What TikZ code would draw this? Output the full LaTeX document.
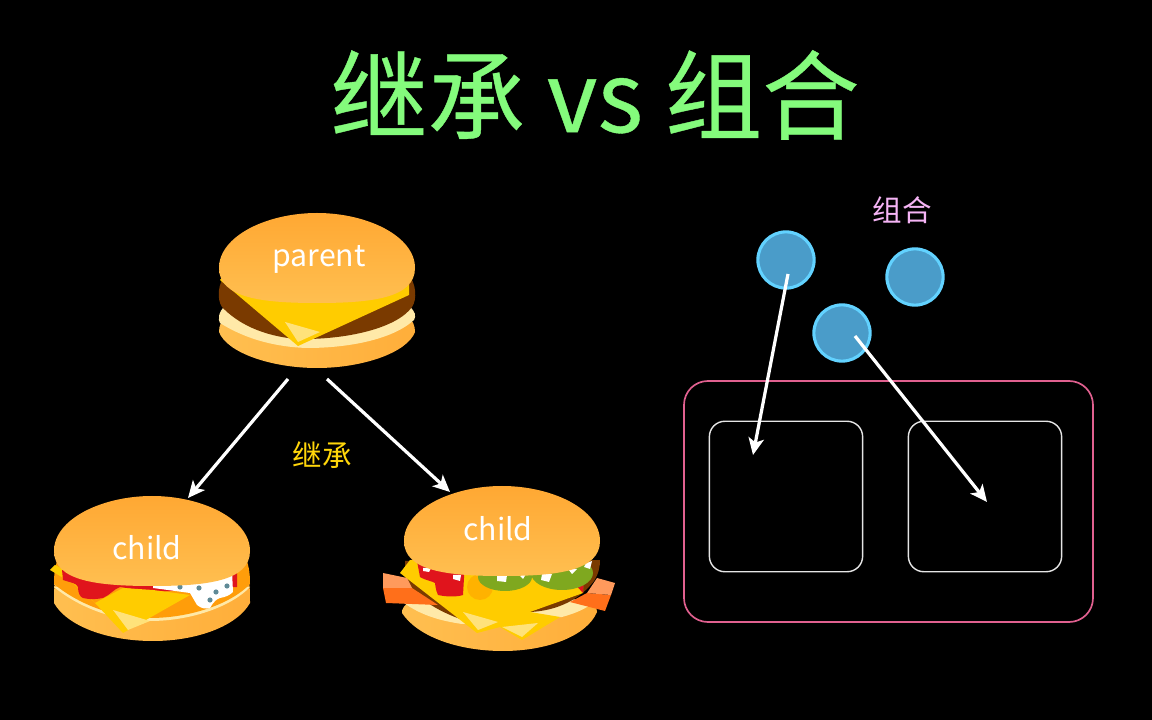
\documentclass[tikz,border=0pt]{standalone}
\usepackage{fontspec}
\setmainfont{Noto Sans CJK SC}
\newfontfamily\titlefont[FakeBold=0.4]{Noto Sans CJK SC}
\usetikzlibrary{arrows.meta}

\definecolor{buntop}{HTML}{FFA833}
\definecolor{bunbot}{HTML}{FFBF50}
\definecolor{baseedge}{HTML}{FFAE3A}
\definecolor{patty}{HTML}{7A3A00}
\definecolor{cheese}{HTML}{FFCC00}
\definecolor{shine}{HTML}{FFE27A}
\definecolor{cream}{HTML}{FFE9A8}
\definecolor{ketchup}{HTML}{E0141C}
\definecolor{pickle}{HTML}{7FA81F}
\definecolor{mayo}{HTML}{FF9D0A}
\definecolor{titlegreen}{HTML}{84FB7C}
\definecolor{labelpink}{HTML}{F5B4F5}
\definecolor{labelgold}{HTML}{FFD60A}
\definecolor{circlefill}{HTML}{4A9CC9}
\definecolor{circleline}{HTML}{62D2FF}
\definecolor{boxpink}{HTML}{E0608F}
\definecolor{specks}{HTML}{5F8A96}
\definecolor{meatlight}{HTML}{FF9A5C}
\definecolor{meatdark}{HTML}{FF6F1A}

\newcommand{\bunpath}{(-98,0) .. controls (-98,-32) and (-50,-55) .. (0,-55) .. controls (50,-55) and (98,-32) .. (98,0) .. controls (98,30) and (55,35) .. (0,35) .. controls (-55,35) and (-98,30) .. (-98,0) -- cycle}

\tikzset{
	bunfill/.style={top color=buntop,bottom color=bunbot,draw=none},
	bunbase/.style={left color=bunbot,right color=baseedge,draw=none},
	bunlabel/.style={text=white,font=\fontsize{21.5}{21.5}\selectfont},
	ball/.style={circle,draw=circleline,fill=circlefill,line width=2.2pt,minimum size=40pt,inner sep=0pt},
	slot/.style={draw=white!90!black,line width=1pt,rounded corners=11pt},
	link/.style={draw=white,line width=2.3pt,-{Stealth[length=12pt,width=11pt,inset=3pt]}},
}

\begin{document}
\begin{tikzpicture}[x=0.025cm,y=-0.025cm]
	\fill[black] (0,0) rectangle (1152,720);
	\useasboundingbox (0,0) rectangle (1152,720);

	% title
	\node[text=titlegreen,font=\titlefont\fontsize{69.2}{69.2}\selectfont] (title) at (595,95) {继承 vs 组合};

	% parent burger
	\begin{scope}[shift={(317,268)}]
		\path[bunbase] (-90,48) .. controls (-96,52) and (-98,58) .. (-98,64) .. controls (-90,85) and (-45,100) .. (0,100) .. controls (45,100) and (90,85) .. (98,64) .. controls (98,58) and (96,52) .. (90,48) -- cycle;
		\fill[cream] (-92,38) .. controls (-99,44) and (-99,52) .. (-97,55) .. controls (-70,72) and (-40,79) .. (-10,80) .. controls (30,80) and (75,72) .. (97,52) .. controls (99,48) and (99,44) .. (92,38) -- cycle;
		\fill[patty] (-90,5) .. controls (-100,15) and (-100,32) .. (-95,39) .. controls (-80,55) and (-55,68) .. (-20,71) .. controls (30,72) and (80,60) .. (95,39) .. controls (100,32) and (100,15) .. (90,5) -- cycle;
		\fill[cheese] (-97,12) -- (-19,78) -- (92,27) -- (92,5) -- (-90,5) -- cycle;
		\fill[shine] (-32,54) -- (3,64) -- (-19,74) -- cycle;
		\path[bunfill] \bunpath;
		\node[bunlabel] (parent) at (2,-9) {parent};
	\end{scope}

	% child with sauce
	\begin{scope}[shift={(152,551)}]
		\path[bunbase] (-95,25) .. controls (-98,30) and (-98,40) .. (-98,52) .. controls (-85,75) and (-45,90) .. (1,90) .. controls (45,90) and (85,75) .. (98,52) .. controls (98,40) and (98,30) .. (95,25) -- cycle;
		\fill[cream] (-98,36) .. controls (-75,55) and (-40,70) .. (-2,70) .. controls (40,70) and (80,55) .. (98,36) -- cycle;
		\fill[mayo] (-95,10) .. controls (-98,20) and (-98,28) .. (-98,33) .. controls (-75,52) and (-40,67) .. (-2,67) .. controls (40,67) and (80,52) .. (98,33) .. controls (98,28) and (98,20) .. (95,10) -- cycle;
		\fill[cheese] (-102,19) -- (-97,14) -- (-85,20) -- (-74,36) -- (-57,52) -- (-78,33) -- (-92,25) -- cycle;
		\fill[ketchup] (-90,19) -- (-89,29) .. controls (-80,32) and (-76,32) .. (-74,36) .. controls (-74,42) and (-72,46) .. (-69,47) .. controls (-60,49) and (-55,48) .. (-49,47) .. controls (-42,44) and (-38,38) .. (-32,36) -- (1,41) -- (85,36) -- (85,20) -- cycle;
		\fill[white] (1,37) -- (38,42) -- (45,54) .. controls (50,58) and (54,58) .. (58,57) .. controls (62,50) and (65,48) .. (68,47) .. controls (74,46) and (78,44) .. (81,41) -- (80,20) -- (1,25) -- cycle;
		\foreach \dotx/\doty in {28/36,47/37,64/41,75/35,58/49}
			\fill[specks] (\dotx,\doty) circle (2.6);
		\fill[cheese] (-57,52) -- (-29,82) -- (38,44) -- (1,39) -- (-29,37) -- cycle;
		\fill[shine] (-39,59) -- (-2,70) -- (-24,79) -- cycle;
		\path[bunfill] \bunpath;
		\node[bunlabel] (childa) at (-5,-3) {child};
	\end{scope}

	% child with everything
	\begin{scope}[shift={(502,541)}]
		\path[bunbase] (-90,60) .. controls (-98,63) and (-100,68) .. (-100,72) .. controls (-85,95) and (-45,110) .. (1,110) .. controls (45,110) and (85,95) .. (95,71) .. controls (95,66) and (92,62) .. (88,60) -- cycle;
		\fill[cream] (-98,62) .. controls (-80,75) and (-60,80) .. (-40,83) -- (60,76) .. controls (75,72) and (88,66) .. (95,58) -- cycle;
		\fill[patty] (-97,20) -- (-97,36) .. controls (-90,55) and (-65,70) .. (-39,79) -- (28,71) .. controls (50,70) and (75,62) .. (92,40) .. controls (97,32) and (98,25) .. (98,19) -- cycle;
		\fill[meatdark] (-119,47) -- (-116,62) -- (-64,64) -- (-90,47) -- cycle;
		\fill[meatlight] (-119,32) -- (-119,47) -- (-90,47) -- (-95,37) -- cycle;
		\fill[meatdark] (109,54) -- (103,70) -- (68,61) -- (85,52) -- cycle;
		\fill[meatlight] (113,42) -- (109,54) -- (85,52) -- (95,37) -- cycle;
		\fill[cheese] (-102,32) -- (-92,19) -- (81,20) -- (81,52) -- (28,71) -- (58,76) -- (20,99) -- (-2,86) -- (-25,92) -- cycle;
		\fill[orange!80!yellow,opacity=.5] (-22,46) circle (13);
		\fill[shine] (-39,71) -- (-4,81) -- (-24,89) -- cycle;
		\fill[shine] (0,86) -- (36,82) -- (20,96) -- cycle;
		\fill[ketchup] (-85,20) -- (-82,36) .. controls (-75,40) and (-70,40) .. (-67,42) .. controls (-66,50) and (-65,52) .. (-64,54) .. controls (-55,56) and (-45,56) .. (-39,54) -- (-37,20) -- cycle;
		\fill[ketchup] (70,40) -- (81,52) -- (82,30) -- cycle;
		\fill[white] (-79,27) -- (-71,27) -- (-73,31) -- (-79,30) -- cycle;
		\fill[white] (-49,34) -- (-41,34) -- (-42,40) -- (-49,38) -- cycle;
		\fill[pickle] (3,36) ellipse (27 and 14);
		\fill[pickle] (60,32) ellipse (31 and 17);
		\fill[white] (-5,34) -- (5,34) -- (4,41) -- (-5,40) -- cycle;
		\fill[white] (16,33) -- (24,33) -- (21,38) -- cycle;
		\fill[white] (40,33) -- (50,33) -- (47,41) -- (39,39) -- cycle;
		\fill[white] (66,28) -- (75,28) -- (70,33) -- cycle;
		\fill[white] (84,22) -- (90,20) -- (88,28) -- (82,26) -- cycle;
		\path[bunfill] \bunpath;
		\node[bunlabel] (childb) at (-4,-12) {child};
	\end{scope}

	\node[text=labelgold,font=\fontsize{21}{21}\selectfont] (inherit) at (322,455) {继承};
	\node[text=labelpink,font=\fontsize{21}{21}\selectfont] (compose) at (902,210) {组合};

	% composition side
	\node[ball] (ballleft) at (786,260) {};
	\node[ball] (ballright) at (915,277) {};
	\node[ball] (ballmid) at (842,333) {};
	\draw[boxpink,line width=1.2pt,rounded corners=17pt] (684,381) rectangle (1093,622);
	\node[slot,minimum width=109pt,minimum height=107pt] (boxleft) at (786,496.5) {};
	\node[slot,minimum width=109pt,minimum height=107pt] (boxright) at (985,496.5) {};

	% connector ends
	\coordinate (pa) at (288,379);
	\coordinate (pb) at (327,379);
	\coordinate (ca) at (188,498);
	\coordinate (cb) at (450,492);
	\coordinate (ba) at (788,274);
	\coordinate (bb) at (855,336);
	\coordinate (ea) at (753,455);
	\coordinate (eb) at (987,502);

	\foreach \from/\to in {pa/ca,pb/cb,ba/ea,bb/eb} \draw[link] (\from) -- (\to);
\end{tikzpicture}
\end{document}
